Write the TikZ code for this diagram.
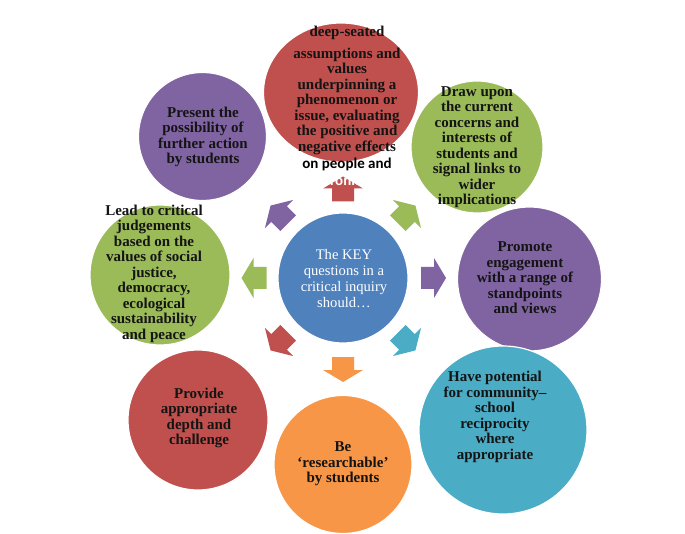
\documentclass[tikz,border=0pt]{standalone}
\usepackage{fontspec}
\setmainfont{Liberation Serif}
\newfontfamily\sansb{Carlito}
\usetikzlibrary{shapes.geometric}
\definecolor{cred}{HTML}{C0504D}
\definecolor{cgreen}{HTML}{9BBB59}
\definecolor{cpurple}{HTML}{8064A2}
\definecolor{ccyan}{HTML}{4BACC6}
\definecolor{corange}{HTML}{F79646}
\definecolor{cblue}{HTML}{4F81BD}
\definecolor{ctext}{HTML}{141414}
\tikzset{
  bubble/.style={circle, fill=#1, draw=white, line width=1.2pt, inner sep=0pt},
  lbl/.style={align=center, font=\fontsize{15}{15.5}\selectfont\bfseries, text=ctext, inner sep=0pt},
  blockarrow/.pic={\fill[#1] (-12.5,-11) -- (0.5,-11) -- (0.5,-20) -- (12.5,0) -- (0.5,20) -- (0.5,11) -- (-12.5,11) -- cycle;}
}
\begin{document}
\begin{tikzpicture}[x=1pt,y=-1pt]
\useasboundingbox (0,0) rectangle (685,534);
\fill[white] (0,0) rectangle (685,534);
% outer bubbles
\node[bubble=cpurple, minimum size=128pt] (c1) at (202.5,136.5) {};
\node[ellipse, fill=cred, draw=white, line width=1.2pt, inner sep=0pt, minimum width=155pt, minimum height=139pt] (c2) at (341,92.5) {};
\node[bubble=cgreen, minimum size=132pt] (c3) at (477,147) {};
\node[bubble=cpurple, minimum size=144pt] (c4) at (529.5,279) {};
\node[bubble=ccyan, minimum size=168pt] (c5) at (503,430) {};
\node[bubble=corange, minimum size=138pt] (c6) at (343,464.5) {};
\node[bubble=cred, minimum size=140pt] (c7) at (198,420) {};
\node[bubble=cgreen, minimum size=140pt] (c8) at (160,275) {};
% centre
\node[bubble=cblue, minimum size=130pt] (ctr) at (343,278) {};
\node[align=center, font=\fontsize{14.6}{15.8}\selectfont, text=white, inner sep=0pt] (ctrt) at (344,278.5) {The KEY\\questions in a\\critical inquiry\\should\ldots};
% arrows
\pic (aT) [rotate=90] at (343,189) {blockarrow=cred};
\pic (aTR) [rotate=45] at (406.6,214.4) {blockarrow=cgreen};
\pic (aR) [rotate=0] at (433.5,278) {blockarrow=cpurple};
\pic (aBR) [rotate=-45] at (406.6,341.6) {blockarrow=ccyan};
\pic (aB) [rotate=-90] at (343,369.5) {blockarrow=corange};
\pic (aBL) [rotate=-135] at (279.4,341.6) {blockarrow=cred};
\pic (aL) [rotate=180] at (254,278) {blockarrow=cgreen};
\pic (aTL) [rotate=135] at (279.4,214.4) {blockarrow=cpurple};
% texts
\node[lbl] (t1) at (203,137) {Present the\\possibility of\\further action\\by students};
\node[lbl, text=white] (t2a) at (347,10) {Investigate the};
\node[lbl] (t2b) at (347,33) {deep-seated};
\node[lbl] (t2c) at (347,101) {assumptions and\\values\\underpinning a\\phenomenon or\\issue, evaluating\\the positive and\\negative effects};
\node[inner sep=0pt, font=\sansb\fontsize{15}{15}\selectfont\bfseries, text=black] (t2d) at (347,164) {on people and};
\node[inner sep=0pt, font=\sansb\fontsize{15}{15}\selectfont\bfseries, text=white] (t2e) at (347,180) {environments};
\node[lbl] (t3) at (477,147) {Draw upon\\the current\\concerns and\\interests of\\students and\\signal links to\\wider\\implications};
\node[lbl] (t4) at (525,278) {Promote\\engagement\\with a range of\\standpoints\\and views};
\node[lbl] (t5) at (495,417) {Have potential\\for community--\\school\\reciprocity\\where\\appropriate};
\node[lbl] (t6) at (343,464) {Be\\‘researchable’\\by students};
\node[lbl] (t7) at (199,418) {Provide\\appropriate\\depth and\\challenge};
\node[lbl] (t8) at (154,273.5) {Lead to critical\\judgements\\based on the\\values of social\\justice,\\democracy,\\ecological\\sustainability\\and peace};
\end{tikzpicture}
\end{document}
